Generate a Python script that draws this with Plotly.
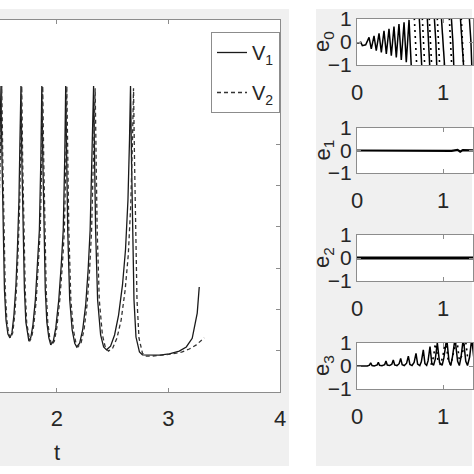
import plotly.graph_objects as go

# ---- left panel: membrane potentials V1 / V2 (left part of the figure is cropped) ----
T_V1 = [1.472, 1.499, 1.508, 1.517, 1.530, 1.544, 1.561, 1.579, 1.597, 1.615, 1.633, 1.646, 1.660, 1.669,
        1.678, 1.686, 1.695, 1.709, 1.722, 1.736, 1.749, 1.767, 1.785, 1.807, 1.825, 1.843, 1.856,
        1.865, 1.874, 1.883, 1.896, 1.910, 1.928, 1.945, 1.968, 1.990, 2.017, 2.039, 2.057, 2.070,
        2.079, 2.088, 2.097, 2.115, 2.137, 2.160, 2.178, 2.204, 2.231, 2.258, 2.280, 2.298, 2.316,
        2.329, 2.338, 2.347, 2.365, 2.392, 2.419, 2.445, 2.481, 2.517, 2.553, 2.588, 2.615, 2.637, 2.651,
        2.660, 2.669, 2.678, 2.691, 2.709, 2.740, 2.767, 2.829, 2.919, 3.008, 3.097, 3.160, 3.213, 3.258, 3.276]
V1 = [-40.8, -6.0, -23.9, -40.8, -55.3, -62.6, -66.0, -66.9, -65.7, -61.4, -54.1, -45.6, -33.6, -19.0,
      -6.0, -23.9, -40.8, -55.3, -63.1, -66.2, -67.7, -66.7, -63.8, -57.7, -50.5, -40.8, -23.9,
      -6.0, -23.9, -40.8, -55.3, -63.1, -66.9, -68.6, -67.7, -64.5, -57.7, -49.3, -40.8, -23.9,
      -6.0, -23.9, -40.8, -57.7, -65.0, -68.2, -69.1, -68.2, -65.0, -59.0, -50.5, -40.8, -23.9,
      -6.0, -23.9, -40.8, -57.7, -66.2, -69.1, -69.8, -68.9, -66.2, -61.4, -54.1, -45.6, -33.6, -19.0,
      -6.0, -23.9, -40.8, -57.7, -66.7, -70.3, -71.0, -71.1, -71.1, -70.8, -70.1, -69.1, -67.0, -60.9, -54.6]

T_V2 = [1.478, 1.506, 1.515, 1.524, 1.537, 1.551, 1.568, 1.586, 1.604, 1.622, 1.640, 1.653, 1.667, 1.676,
        1.685, 1.693, 1.702, 1.716, 1.729, 1.743, 1.756, 1.775, 1.793, 1.815, 1.833, 1.851, 1.864,
        1.873, 1.882, 1.891, 1.904, 1.918, 1.936, 1.954, 1.977, 1.999, 2.026, 2.049, 2.067, 2.080,
        2.089, 2.098, 2.107, 2.125, 2.148, 2.171, 2.189, 2.216, 2.243, 2.270, 2.293, 2.311, 2.329,
        2.343, 2.352, 2.361, 2.380, 2.408, 2.436, 2.463, 2.500, 2.538, 2.576, 2.612, 2.640, 2.662, 2.677,
        2.687, 2.696, 2.705, 2.718, 2.736, 2.767, 2.794, 2.856, 2.946, 3.035, 3.124, 3.187, 3.250, 3.320]
V2 = [-40.8, -6.0, -23.9, -40.8, -55.3, -62.6, -66.0, -66.9, -65.7, -61.4, -54.1, -45.6, -33.6, -19.0,
      -6.0, -23.9, -40.8, -55.3, -63.1, -66.2, -67.7, -66.7, -63.8, -57.7, -50.5, -40.8, -23.9,
      -6.0, -23.9, -40.8, -55.3, -63.1, -66.9, -68.6, -67.7, -64.5, -57.7, -49.3, -40.8, -23.9,
      -6.0, -23.9, -40.8, -57.7, -65.0, -68.2, -69.1, -68.2, -65.0, -59.0, -50.5, -40.8, -23.9,
      -6.5, -23.9, -40.8, -57.7, -66.2, -69.4, -70.1, -69.4, -67.0, -62.6, -55.3, -46.8, -34.8, -20.0,
      -6.5, -23.9, -40.8, -57.7, -67.0, -70.6, -71.3, -71.3, -71.1, -70.8, -70.3, -69.6, -68.6, -66.9]

# ---- right panel: synchronisation errors e0..e3 (None = pen lifted, value wraps off-axis) ----
T_E0 = [0.003, 0.043, 0.062, 0.101, 0.140, 0.166, 0.198, 0.224, 0.256, 0.283, 0.314, 0.341, 0.372, 0.399,
        0.430, 0.457, 0.488, 0.515, 0.547, 0.573, 0.605, 0.631, 0.650, None,
        0.721, 0.740, 0.756, None, 0.814, 0.835, 0.849, None, 0.895, 0.917, 0.930, None,
        0.977, 1.003, 1.023, None, 1.093, 1.115, 1.128, None, 1.198, 1.225, 1.244, None,
        1.302, 1.325, 1.337]
E0 = [-0.06, -0.01, -0.16, -0.12, 0.20, -0.30, 0.27, -0.38, 0.38, -0.45, 0.49, -0.52, 0.57, -0.60,
      0.67, -0.67, 0.78, -0.78, 0.86, -0.88, 0.96, -1.05, -1.4, None,
      1.3, 0.0, -1.3, None, 1.3, 0.0, -1.3, None, 1.3, 0.0, -1.3, None,
      1.3, 0.0, -1.3, None, 1.3, 0.0, -1.3, None, 1.3, 0.0, -1.3, None,
      1.3, 0.0, -1.3]
T_E0_DOT = [0.663, 0.683, 0.698, None, 0.756, 0.776, 0.791, None, 0.837, 0.857, 0.872, None,
            0.930, 0.950, 0.965, None, 1.070, 1.090, 1.105, None, 1.209, 1.230, 1.244]
E0_DOT = [1.3, 0.0, -1.3, None, 1.3, 0.0, -1.3, None, 1.3, 0.0, -1.3, None,
          1.3, 0.0, -1.3, None, 1.3, 0.0, -1.3, None, 1.3, 0.0, -1.3]

T_E1 = [0.0, 0.90, 1.00, 1.10, 1.17, 1.20, 1.23, 1.30, 1.36]
E1 = [0.0, 0.0, 0.01, -0.02, 0.03, -0.05, 0.02, 0.0, 0.0]

T_E2 = [0.0, 1.36]
E2 = [0.0, 0.0]

T_E3 = [0.0, 0.12, 0.145, 0.159, 0.175, 0.20, 0.235, 0.248, 0.262, 0.29, 0.322, 0.337, 0.352, 0.38,
        0.405, 0.422, 0.438, 0.465, 0.49, 0.508, 0.525, 0.55, 0.577, 0.597, 0.615, 0.64,
        0.664, 0.686, 0.705, 0.73, 0.748, 0.771, 0.79, 0.81, 0.826, 0.849, 0.87, 0.89,
        0.91, 0.934, 0.96, 0.99, 1.01, 1.043, 1.07, 1.09, 1.11, 1.140, 1.17, 1.19,
        1.21, 1.236, 1.265, 1.285, 1.31, 1.334, 1.36]
E3 = [0.0, 0.0, 0.04, 0.14, 0.02, 0.0, 0.05, 0.16, 0.03, 0.01, 0.06, 0.22, 0.04, 0.02,
      0.08, 0.26, 0.05, 0.02, 0.10, 0.33, 0.06, 0.02, 0.12, 0.43, 0.07, 0.02,
      0.15, 0.55, 0.08, 0.02, 0.18, 0.70, 0.10, 0.03, 0.22, 0.84, 0.12, 0.03,
      0.30, 1.0, 0.15, 0.03, 0.35, 1.2, 0.20, 0.02, 0.40, 1.2, 0.20, 0.02,
      0.40, 1.2, 0.20, 0.02, 0.40, 1.2, 0.30]
T_E3_DOT = [0.86, 0.89, 0.915, 0.94, 0.97, 1.00, 1.03, 1.06, 1.09, 1.12, 1.16, 1.19, 1.22, 1.26, 1.29]
E3_DOT = [0.05, 0.4, 1.1, 0.25, 0.05, 0.45, 1.2, 0.25, 0.05, 0.45, 1.2, 0.25, 0.45, 1.2, 0.25]

E_LABELS = ["e<sub>0</sub>", "e<sub>1</sub>", "e<sub>2</sub>", "e<sub>3</sub>"]
E_XTICKS = [0, 1]
E_YTICKS = [-1, 0, 1]
V_XTICKS = [2, 3, 4]

W = H = 474
FONT = "Liberation Sans, Arial, sans-serif"
FONT_SIZE = 22
E_TICK_SIZE = 21
TEXT_COLOR = "#262626"
PANEL_GRAY = "#f0f0f0"
AXIS_GRAY = "#8c8c8c"
LINE_BLACK = "#1a1a1a"

# pixel boxes
LEFT_BOX = (0, 20, 280, 392)  # x0, y0, x1, y1
E_BOXES = [(357, 19, 473, 65), (357, 128, 473, 173), (357, 235, 473, 281), (357, 343, 473, 389)]
LEFT_PANEL = (0, 9, 289, 466)
RIGHT_PANEL = (316, 9, 472, 466)


def px_x(p):
    return p / W


def px_y(p):
    return 1 - p / H


def _rect(box, color):
    x0, y0, x1, y1 = box
    return dict(type="rect", xref="paper", yref="paper", x0=px_x(x0), x1=px_x(x1),
                y0=px_y(y1), y1=px_y(y0), fillcolor=color, line_width=0, layer="below")


def _font(size=FONT_SIZE):
    return dict(family=FONT, size=size, color=TEXT_COLOR)


common_axis = dict(showgrid=False, zeroline=False, showline=True, linecolor=AXIS_GRAY, linewidth=1,
                   ticks="inside", ticklen=4, tickcolor=AXIS_GRAY, automargin=False)

fig = go.Figure()

fig.add_trace(go.Scatter(x=T_V1, y=V1, mode="lines", name="V<sub>1</sub>", legendgroup="v1",
                         line=dict(color=LINE_BLACK, width=1.3), xaxis="x", yaxis="y"))
fig.add_trace(go.Scatter(x=T_V2, y=V2, mode="lines", name="V<sub>2</sub>", legendgroup="v2",
                         line=dict(color="#333333", width=1.3, dash="4px,3px"), xaxis="x", yaxis="y"))

e_series = [(T_E0, E0, T_E0_DOT, E0_DOT), (T_E1, E1, None, None), (T_E2, E2, None, None),
            (T_E3, E3, T_E3_DOT, E3_DOT)]
e_widths = [1.5, 2.2, 2.8, 1.5]

layout = dict(
    template="none",
    width=W, height=H, margin=dict(l=0, r=0, t=0, b=0, pad=0), autosize=False,
    paper_bgcolor="white", plot_bgcolor="white",
    font=_font(),
    legend=dict(x=px_x(211), y=px_y(32), xanchor="left", yanchor="top",
                bgcolor="white", bordercolor=AXIS_GRAY, borderwidth=1, font=_font(20),
                traceorder="grouped", tracegroupgap=11, itemwidth=30),
    xaxis=dict(domain=[px_x(LEFT_BOX[0]), px_x(LEFT_BOX[2])], range=[1.49, 4.0],
               tickvals=V_XTICKS, mirror="ticks", anchor="y", ticklabelstandoff=7,
               tickfont=_font(), **common_axis),
    yaxis=dict(domain=[px_y(LEFT_BOX[3]), px_y(LEFT_BOX[1])], range=[-80, 10], dtick=10,
               side="right", showticklabels=False, anchor="x", **common_axis),
)

shapes = [_rect(LEFT_PANEL, PANEL_GRAY), _rect(RIGHT_PANEL, PANEL_GRAY), _rect(LEFT_BOX, "white")]
annotations = [dict(text="t", xref="paper", yref="paper", x=px_x(57), y=px_y(452),
                    showarrow=False, xanchor="center", yanchor="middle", font=_font())]

for i, (box, (tx, ey, tdx, edy), label, width) in enumerate(zip(E_BOXES, e_series, E_LABELS, e_widths)):
    n = i + 2
    xa, ya = f"x{n}", f"y{n}"
    fig.add_trace(go.Scatter(x=tx, y=ey, mode="lines", showlegend=False, connectgaps=False,
                             line=dict(color="black", width=width), xaxis=xa, yaxis=ya))
    if tdx is not None:
        fig.add_trace(go.Scatter(x=tdx, y=edy, mode="lines", showlegend=False, connectgaps=False,
                                 line=dict(color="black", width=1.6, dash="2px,4px"), xaxis=xa, yaxis=ya))
    x0, y0, x1, y1 = box
    layout[f"xaxis{n}"] = dict(domain=[px_x(x0), px_x(x1)], range=[0, (x1 - x0) / 86],
                               tickvals=E_XTICKS, mirror="ticks", anchor=ya,
                               ticklabelstandoff=8, tickfont=_font(), **common_axis)
    layout[f"yaxis{n}"] = dict(domain=[px_y(y1), px_y(y0)], range=[-1, 1], tickvals=E_YTICKS,
                               mirror="ticks", anchor=xa, tickfont=_font(E_TICK_SIZE), **common_axis)
    shapes.append(_rect(box, "white"))
    annotations.append(dict(text=label, xref="paper", yref="paper", x=px_x(323), y=px_y((y0 + y1) / 2),
                            textangle=-90, showarrow=False, xanchor="center", yanchor="middle",
                            font=_font()))

layout["shapes"] = shapes
layout["annotations"] = annotations
fig.update_layout(**layout)

fig.write_html("out.html", config={"displayModeBar": False},
               post_script="document.body.style.margin='0';")
